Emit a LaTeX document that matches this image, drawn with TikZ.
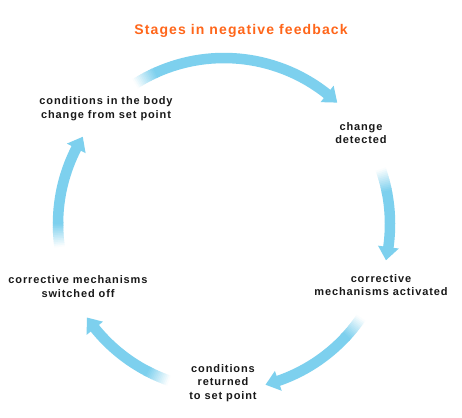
\documentclass[tikz,border=0pt]{standalone}
\usepackage{fontspec}
\setmainfont{Liberation Sans}[LetterSpace=8]
\definecolor{fb}{RGB}{125,208,238}
\definecolor{titleorange}{RGB}{255,102,26}
\tikzset{
  lbl/.style={inner sep=0pt, align=center, text=black!90,
    font=\fontsize{11bp}{13.8bp}\selectfont\bfseries},
  ttl/.style={inner sep=0pt, text=titleorange,
    font=\fontsize{14bp}{17bp}\selectfont\bfseries}
}
\newcommand\fadearrow[2]{%
  \pgfmathsetmacro\hbase{#2+4.6}%
  \foreach \k in {0,...,13}{%
    \pgfmathsetmacro\aa{#1-\k*0.6}%
    \pgfmathsetmacro\ab{\aa-0.85}%
    \pgfmathsetmacro\pc{min(100,\k*7.5+4)}%
    \draw[line width=10.5bp, color=fb!\pc!white] (\aa:166) arc[start angle=\aa, end angle=\ab, radius=166];
  }%
  \pgfmathsetmacro\fs{#1-8.3}%
  \draw[line width=10.5bp, fb] (\fs:166) arc[start angle=\fs, end angle=\hbase-0.3, radius=166];
  \fill[fb] (\hbase:155.5) -- (#2:166) -- (\hbase:176.5) -- cycle;
}
\begin{document}
\begin{tikzpicture}[x=1bp,y=1bp]
\useasboundingbox (0,0) rectangle (462,417);
\fill[white] (0,0) rectangle (462,417);
\node[ttl] (title) at (241,386) {Stages in negative feedback};
\node[lbl] (n1) at (106,308.5) {conditions in the body\\change from set point};
\node[lbl] (n2) at (361,284) {change\\detected};
\node[lbl] (n3) at (381,132) {corrective\\mechanisms activated};
\node[lbl] (n4) at (223,34) {conditions\\returned\\to set point};
\node[lbl] (n5) at (78,130.5) {corrective mechanisms\\switched off};
\begin{scope}[shift={(224,193)}]
  \fadearrow{122.3}{47}
  \fadearrow{19.3}{-12.6}
  \fadearrow{-34.4}{-75.5}
  \fadearrow{-109.4}{-145.7}
  \fadearrow{-172.1}{-211.7}
\end{scope}
\end{tikzpicture}
\end{document}
